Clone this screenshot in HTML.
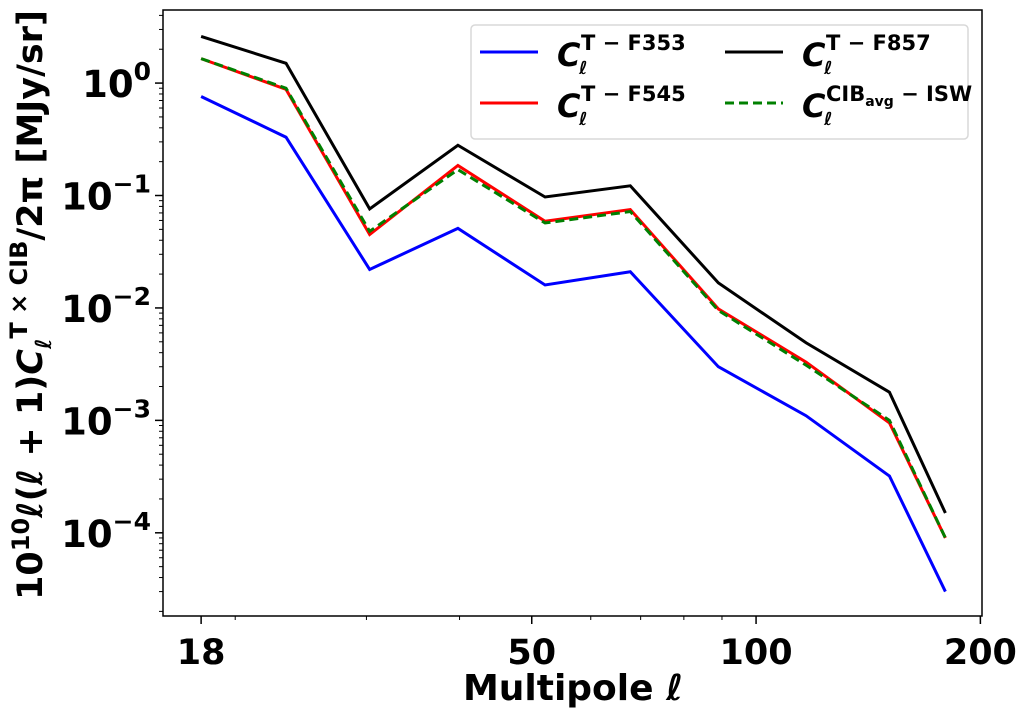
<!DOCTYPE html>
<html><head><meta charset="utf-8">
<style>
body{margin:0;background:#fff;}
svg{display:block;font-family:"DejaVu Sans","Liberation Sans",sans-serif;font-weight:bold;}
</style></head>
<body>
<svg id="chart" width="1020" height="710" viewBox="0 0 1020 710">
<g id="plot"></g>
<g id="axes"></g>
<g id="legend">
  <rect x="471" y="25" width="497" height="114" rx="4" fill="#fff" stroke="#d8d8d8" stroke-width="1.5"/>
  <g>
    <line x1="480" y1="52" x2="538" y2="52" stroke="#0000ff" stroke-width="3"/>
    <text x="557" y="66" font-size="32" font-style="italic">C</text><text x="579" y="74" font-size="18" font-style="italic">ℓ</text><text x="581" y="50" font-size="21">T − F353</text>
  </g>
  <g>
    <line x1="480" y1="103" x2="538" y2="103" stroke="#ff0000" stroke-width="3"/>
    <text x="557" y="117" font-size="32" font-style="italic">C</text><text x="579" y="125" font-size="18" font-style="italic">ℓ</text><text x="581" y="101" font-size="21">T − F545</text>
  </g>
  <g>
    <line x1="725" y1="52" x2="783" y2="52" stroke="#000" stroke-width="3"/>
    <text x="802" y="66" font-size="32" font-style="italic">C</text><text x="824" y="74" font-size="18" font-style="italic">ℓ</text><text x="826" y="50" font-size="21">T − F857</text>
  </g>
  <g>
    <line x1="725" y1="103" x2="783" y2="103" stroke="#008000" stroke-width="3" stroke-dasharray="9,5"/>
    <text x="802" y="117" font-size="32" font-style="italic">C</text><text x="824" y="125" font-size="18" font-style="italic">ℓ</text><text x="826" y="101" font-size="21">CIB<tspan font-size="14" dy="5">avg</tspan><tspan dy="-5"> − ISW</tspan></text>
  </g>
</g>
<text x="573" y="700" font-size="36" text-anchor="middle">Multipole <tspan font-style="italic">ℓ</tspan></text>
<text transform="translate(42,305) rotate(-90)" font-size="35" text-anchor="middle" textLength="590" lengthAdjust="spacingAndGlyphs">10<tspan font-size="24" dy="-13">10</tspan><tspan dy="13" font-style="italic">ℓ</tspan>(<tspan font-style="italic">ℓ</tspan> + 1)<tspan font-style="italic">C</tspan><tspan font-size="22" dy="9" font-style="italic">ℓ</tspan><tspan font-size="24" dy="-24">T × CIB</tspan><tspan dy="15">/2π [MJy/sr]</tspan></text>
</svg>
<script>
const ells = [18, 23.4, 30.3, 39.8, 52.1, 67.8, 89, 116.7, 151, 179.5];
const f353 = [0.76, 0.33, 0.022, 0.051, 0.016, 0.021, 0.003, 0.0011, 0.00032, 0.00003];
const f545 = [1.65, 0.88, 0.045, 0.185, 0.059, 0.075, 0.0098, 0.0033, 0.00095, 0.00009];
const f857 = [2.6, 1.5, 0.076, 0.28, 0.097, 0.122, 0.0167, 0.0049, 0.00178, 0.00015];
const cibAvg = [1.65, 0.9, 0.048, 0.17, 0.057, 0.072, 0.0095, 0.0031, 0.001, 0.00009];
const xTicks = [18, 50, 100, 200];
const xTickLabels = ["18", "50", "100", "200"];
const yTicks = [0, -1, -2, -3, -4];

const L=163,R=982,T=10,B=616;
const xmin=Math.log10(16.0), xmax=Math.log10(201);
const ymax=0.65, ymin=-4.74;
const X=v=>L+(Math.log10(v)-xmin)/(xmax-xmin)*(R-L);
const Y=v=>T+(ymax-Math.log10(v))/(ymax-ymin)*(B-T);
const NS="http://www.w3.org/2000/svg";
function mk(tag,attrs,parent){const e=document.createElementNS(NS,tag);for(const k in attrs)e.setAttribute(k,attrs[k]);parent.appendChild(e);return e;}
const plot=document.getElementById('plot'), axes=document.getElementById('axes');

const series=[[f353,'#0000ff','',"line-f353"],[f857,'#000','',"line-f857"],[f545,'#ff0000','',"line-f545"],[cibAvg,'#008000','9,5',"line-cib-avg-isw"]];
series.forEach(s=>{
  const p=mk('polyline',{points:s[0].map((v,i)=>X(ells[i])+','+Y(v)).join(' '),fill:'none',stroke:s[1],'stroke-width':3,'stroke-dasharray':s[2]||'none','stroke-linejoin':'miter'},plot);
  
  
});

const frame=mk('rect',{x:L,y:T,width:R-L,height:B-T,fill:'none',stroke:'#000','stroke-width':1.5},axes);



for(let d=10;d<=100;d*=10){for(let m=2;m<=9;m++){const v=m*d;if(v<16||v>201)continue;const x=X(v);mk('line',{x1:x,y1:B,x2:x,y2:B+4,stroke:'#000','stroke-width':1},axes);}}
xTicks.forEach((v,i)=>{const x=X(v);mk('line',{x1:x,y1:B,x2:x,y2:B+8,stroke:'#000','stroke-width':1.5},axes);
  const t=mk('text',{x:x,y:B+48,'font-size':35,'text-anchor':'middle'},axes);t.textContent=xTickLabels[i];
  
  
});
for(let e=-5;e<=0;e++){for(let m=2;m<=9;m++){const v=m*Math.pow(10,e);const y=Y(v);if(y<T||y>B)continue;mk('line',{x1:L-4,y1:y,x2:L,y2:y,stroke:'#000','stroke-width':1},axes);}}
yTicks.forEach(e=>{const y=Y(Math.pow(10,e));mk('line',{x1:L-8,y1:y,x2:L,y2:y,stroke:'#000','stroke-width':1.5},axes);
  const t=mk('text',{x:L-12,y:y+14,'font-size':37,'text-anchor':'end'},axes);
  
  
  t.innerHTML='10<tspan font-size="25" dy="-17">'+(e===0?'0':'−'+(-e))+'</tspan>';
});
</script>
</body></html>
